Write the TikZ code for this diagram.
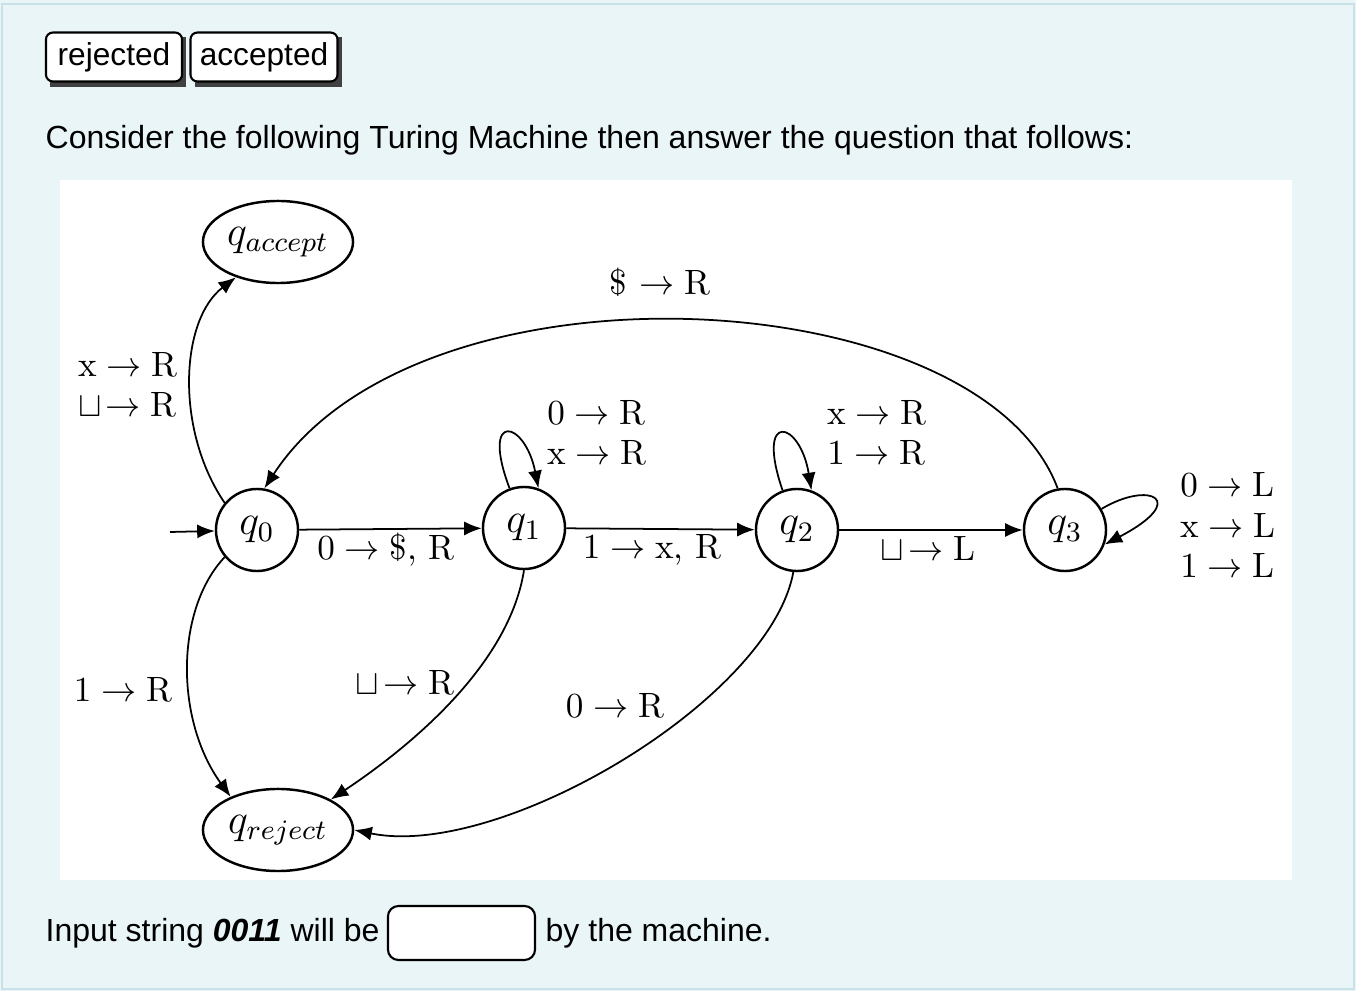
\documentclass[tikz,border=0pt]{standalone}
\usepackage{fontspec}
\newfontfamily\uisans{Liberation Sans}
\usetikzlibrary{arrows.meta,shapes.geometric}
\begin{document}
\begin{tikzpicture}[x=0.01cm,y=-0.01cm,
  st/.style={circle,draw,line width=0.7pt,minimum size=0.82cm,inner sep=0pt,font=\fontsize{12}{12}\selectfont},
  el/.style={ellipse,draw,line width=0.7pt,minimum width=1.5cm,minimum height=0.82cm,inner sep=0pt,font=\fontsize{12}{12}\selectfont},
  ed/.style={line width=0.5pt,-{Latex[length=5pt,width=4pt]}},
  lb/.style={font=\fontsize{10}{11.5}\selectfont,align=left,inner sep=0pt},
  btn/.style={draw,line width=0.6pt,rounded corners=2pt,fill=white,font=\uisans\fontsize{9}{9}\selectfont,inner sep=0pt},
  ui/.style={font=\uisans\fontsize{9.1}{10}\selectfont,inner sep=0pt,anchor=west}]
\useasboundingbox (0,0) rectangle (1356,991);
\fill[fill={rgb,255:red,234;green,245;blue,248}] (0,0) rectangle (1356,991);
\draw[color={rgb,255:red,200;green,225;blue,232}] (2,4) rectangle (1354,989);
\fill[white] (60,180) rectangle (1292,880);
% buttons
\fill[black!75] (50,37) rectangle (186,87);
\fill[black!75] (195,37) rectangle (342,87);
\node[btn,minimum width=1.36cm,minimum height=0.49cm] (rej) at (114,57) {rejected};
\node[btn,minimum width=1.47cm,minimum height=0.49cm] (acc) at (264,57) {accepted};
\node[ui] (title) at (45,140) {Consider the following Turing Machine then answer the question that follows:};
% states
\node[st] (q0) at (257,530) {$q_0$};
\node[st] (q1) at (524,528) {$q_1$};
\node[st] (q2) at (797,530) {$q_2$};
\node[st] (q3) at (1065,530) {$q_3$};
\node[el] (qa) at (278,242) {$q_{accept}$};
\node[el] (qr) at (278,830) {$q_{reject}$};
\coordinate (s) at (170,532);
\draw[ed] (s) -- (q0);
\draw[ed] (q0) -- (q1);
\draw[ed] (q1) -- (q2);
\draw[ed] (q2) -- (q3);
\draw[ed] (q1.110) .. controls (480,410) and (525,420) .. (q1.70);
\draw[ed] (q2.110) .. controls (755,410) and (800,420) .. (q2.70);
\draw[ed] (q3.30) .. controls (1150,480) and (1190,500) .. (q3.-20);
\draw[ed] (q3.100) .. controls (980,280) and (420,250) .. (q0.80);
\draw[ed] (q0.140) .. controls (175,430) and (180,320) .. (qa.220);
\draw[ed] (q0.220) .. controls (175,610) and (175,720) .. (qr.145);
\draw[ed] (q1.270) .. controls (510,660) and (420,740) .. (qr.30);
\draw[ed] (q2.265) .. controls (770,700) and (500,860) .. (qr.0);
% labels
\node[lb] (l01) at (386,550) {$0\rightarrow{}$\$, R};
\node[lb] (l12) at (652,550) {$1\rightarrow{}$x, R};
\node[lb] (l23) at (928,548) {$\sqcup\!\rightarrow{}$L};
\node[lb] (l11) at (597,433) {$0\rightarrow{}$R\\x$\;\rightarrow{}$R};
\node[lb] (l22) at (877,433) {x$\;\rightarrow{}$R\\$1\rightarrow{}$R};
\node[lb] (l33) at (1228,525) {$0\rightarrow{}$L\\x$\;\rightarrow{}$L\\$1\rightarrow{}$L};
\node[lb] (l30) at (660,282) {\$ $\rightarrow{}$R};
\node[lb] (l0a) at (128,385) {x$\;\rightarrow{}$R\\$\sqcup\!\rightarrow{}$R};
\node[lb] (l0r) at (123,690) {$1\rightarrow{}$R};
\node[lb] (l1r) at (405,683) {$\sqcup\!\rightarrow{}$R};
\node[lb] (l2r) at (615,706) {$0\rightarrow{}$R};
% bottom
\node[ui] (in) at (45,933) {Input string \textbf{\textit{0011}} will be};
\node[draw,fill=white,rounded corners=3pt,line width=0.6pt,minimum width=1.47cm,minimum height=0.54cm,inner sep=0pt] (box) at (461.5,933) {};
\node[ui] (by) at (545,933) {by the machine.};
\end{tikzpicture}
\end{document}
